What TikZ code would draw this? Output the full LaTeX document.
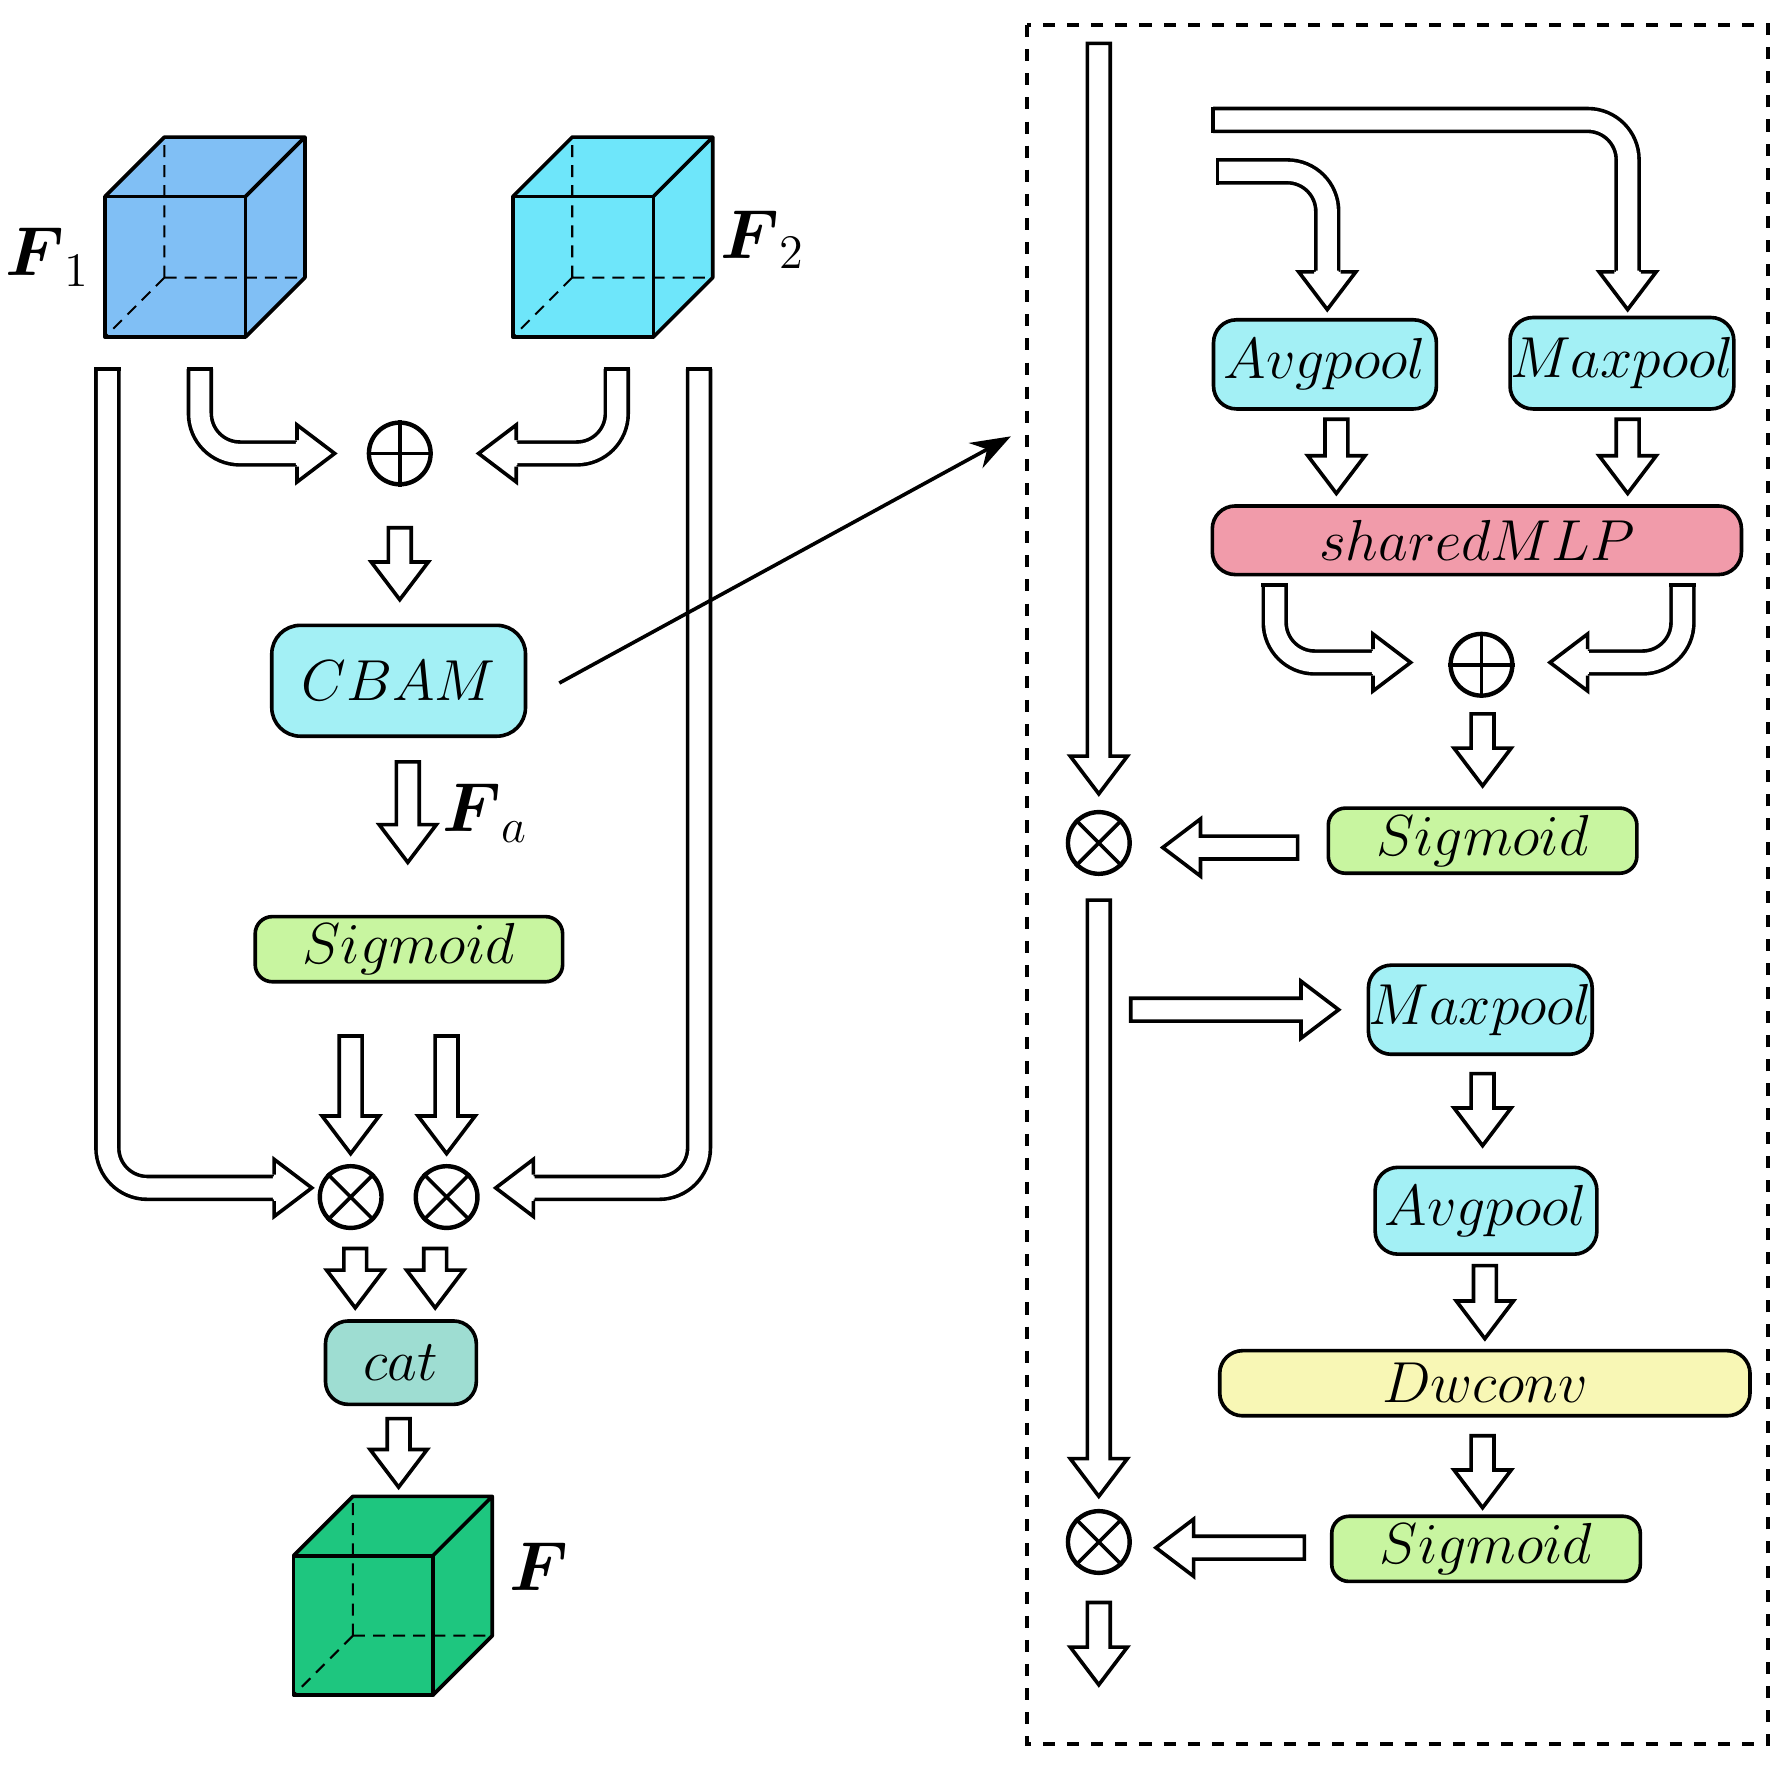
\documentclass[tikz,border=0pt]{standalone}
\usepackage{amsmath}
\usetikzlibrary{arrows.meta}
\definecolor{cubeA}{HTML}{80BFF5}
\definecolor{cubeB}{HTML}{6EE6FA}
\definecolor{cubeC}{HTML}{1EC67F}
\definecolor{cyanbox}{HTML}{A3F0F5}
\definecolor{greenbox}{HTML}{C8F5A0}
\definecolor{catbox}{HTML}{9EDDD2}
\definecolor{mlpbox}{HTML}{F19BAA}
\definecolor{dwbox}{HTML}{F8F7B5}
\tikzset{
  x=0.01cm,y=-0.01cm,
  every path/.style={line width=0.9pt},
  box/.style={draw,rounded corners=0.2cm,inner sep=0pt,font=\fontsize{14}{16}\selectfont},
  tube/.style={double=white,double distance=0.168cm,line width=0.9pt,rounded corners=0.35cm},
  op/.style={circle,draw,minimum size=0.54cm,inner sep=0pt,line width=1.1pt},
}
\newcommand\sarr[4]{\begin{scope}[shift={(#1,#2)},rotate=#3]
  \draw[fill=white,line join=miter] (0,-10)--(#4-33,-10)--(#4-33,-25)--(#4,0)--(#4-33,25)--(#4-33,10)--(0,10)--cycle;\end{scope}}
\newcommand\headA[3]{\begin{scope}[shift={(#1,#2)},rotate=#3]
  \fill[white] (-1,-10)--(0,-10)--(0,-25)--(33,0)--(0,25)--(0,10)--(-1,10)--cycle;
  \draw[line join=miter] (0,-11.6)--(0,-25)--(33,0)--(0,25)--(0,11.6);\end{scope}}
\newcommand\capV[2]{\draw (#1-11.6,#2)--(#1+11.6,#2);}
\newcommand\capH[2]{\draw (#1,#2-11.6)--(#1,#2+11.6);}
\newcommand\cube[4]{% x y size color
  \fill[#4] (#1,#2)--(#1+52,#2-52)--(#1+52+#3,#2-52)--(#1+52+#3,#2-52+#3)--(#1+#3,#2+#3)--(#1,#2+#3)--cycle;
  \draw[densely dashed,line width=0.5pt] (#1+52,#2-52+#3)--(#1+52,#2-52) (#1+52,#2-52+#3)--(#1+52+#3,#2-52+#3) (#1+52,#2-52+#3)--(#1,#2+#3);
  \draw[line join=round] (#1,#2) rectangle (#1+#3,#2+#3);
  \draw[line join=round] (#1,#2)--(#1+52,#2-52)--(#1+52+#3,#2-52)--(#1+#3,#2) (#1+52+#3,#2-52)--(#1+52+#3,#2-52+#3)--(#1+#3,#2+#3);}
\begin{document}
\begin{tikzpicture}
\useasboundingbox (0,0) rectangle (1568,1545);
% cubes
\cube{92}{172}{123}{cubeA}
\cube{449}{172}{123}{cubeB}
\cube{257}{1362}{122}{cubeC}
\node (f1) at (42,225) {\fontsize{17}{19}\selectfont$\boldsymbol{F}_1$};
\node (f2) at (668,210) {\fontsize{17}{19}\selectfont$\boldsymbol{F}_2$};
\node (f) at (472,1372) {\fontsize{17}{19}\selectfont$\boldsymbol{F}$};
% left part
\node[op] (p1) at (350,397) {};
\draw (p1.north)--(p1.south) (p1.west)--(p1.east);
\draw[tube] (175,323)--(175,397)--(260,397); \capV{175}{323} \headA{260}{397}{0}
\draw[tube] (540,323)--(540,397)--(452,397); \capV{540}{323} \headA{452}{397}{180}
\sarr{350}{462}{-90}{63}
\node[box,fill=cyanbox,minimum width=2.22cm,minimum height=0.97cm,rounded corners=0.25cm] (cbam) at (349,596) {$CBAM$};
\sarr{357}{667}{-90}{88}
\node (fa) at (425,712) {\fontsize{17}{19}\selectfont$\boldsymbol{F}_a$};
\node[box,fill=greenbox,minimum width=2.69cm,minimum height=0.57cm,rounded corners=0.15cm] (sig1) at (358,831) {$Sigmoid$};
\sarr{307}{907}{-90}{103}
\sarr{391}{907}{-90}{103}
\node[op] (m1) at (307,1048) {};
\node[op] (m2) at (391,1048) {};
\foreach \m in {m1,m2} \draw (\m.north west)--(\m.south east) (\m.north east)--(\m.south west);
\draw[tube] (94,323)--(94,1040)--(240,1040); \capV{94}{323} \headA{240}{1040}{0}
\draw[tube] (612,323)--(612,1040)--(467,1040); \capV{612}{323} \headA{467}{1040}{180}
\sarr{311}{1093}{-90}{52}
\sarr{381}{1093}{-90}{52}
\node[box,fill=catbox,minimum width=1.32cm,minimum height=0.73cm] (cat) at (351,1193) {$cat$};
\sarr{349}{1242}{-90}{60}
\draw[-{Stealth[length=0.35cm,width=0.25cm]}] (cbam.east)++(28,2) -- (885,382);
% right part
\draw[dashed,line width=1.1pt] (899,22) rectangle (1548,1527);
\sarr{962}{38}{-90}{657}
\node[op] (m3) at (962,738) {};
\node[op] (m4) at (962,1350) {};
\foreach \m in {m3,m4} \draw (\m.north west)--(\m.south east) (\m.north east)--(\m.south west);
\draw[tube] (1062,105)--(1425,105)--(1425,240); \capH{1062}{105} \headA{1425}{238}{-90}
\draw[tube] (1066,150)--(1162,150)--(1162,240); \capH{1066}{150} \headA{1162}{238}{-90}
\node[box,fill=cyanbox,minimum width=1.95cm,minimum height=0.78cm] (avg1) at (1160,319) {$Avgpool$};
\node[box,fill=cyanbox,minimum width=1.95cm,minimum height=0.80cm] (max1) at (1420,318) {$Maxpool$};
\sarr{1170}{367}{-90}{65}
\sarr{1425}{367}{-90}{65}
\node[box,fill=mlpbox,minimum width=4.63cm,minimum height=0.60cm] (mlp) at (1293,473) {$sharedMLP$};
\draw[tube] (1116,512)--(1116,580)--(1202,580); \capV{1116}{512} \headA{1202}{580}{0}
\draw[tube] (1473,512)--(1473,580)--(1390,580); \capV{1473}{512} \headA{1390}{580}{180}
\node[op] (p2) at (1297,582) {};
\draw (p2.north)--(p2.south) (p2.west)--(p2.east);
\sarr{1298}{625}{-90}{63}
\node[box,fill=greenbox,minimum width=2.70cm,minimum height=0.57cm,rounded corners=0.15cm] (sig2) at (1298,736) {$Sigmoid$};
\sarr{1136}{742}{180}{118}
\sarr{962}{788}{-90}{522}
\sarr{990}{884}{0}{182}
\node[box,fill=cyanbox,minimum width=1.93cm,minimum height=0.78cm] (max2) at (1296,884) {$Maxpool$};
\sarr{1298}{940}{-90}{63}
\node[box,fill=cyanbox,minimum width=1.94cm,minimum height=0.76cm] (avg2) at (1301,1060) {$Avgpool$};
\sarr{1300}{1108}{-90}{64}
\node[box,fill=dwbox,minimum width=4.64cm,minimum height=0.57cm] (dw) at (1300,1211) {$Dwconv$};
\sarr{1298}{1257}{-90}{63}
\node[box,fill=greenbox,minimum width=2.70cm,minimum height=0.57cm,rounded corners=0.15cm] (sig3) at (1301,1356) {$Sigmoid$};
\sarr{1142}{1355}{180}{130}
\sarr{962}{1403}{-90}{72}
\end{tikzpicture}
\end{document}
